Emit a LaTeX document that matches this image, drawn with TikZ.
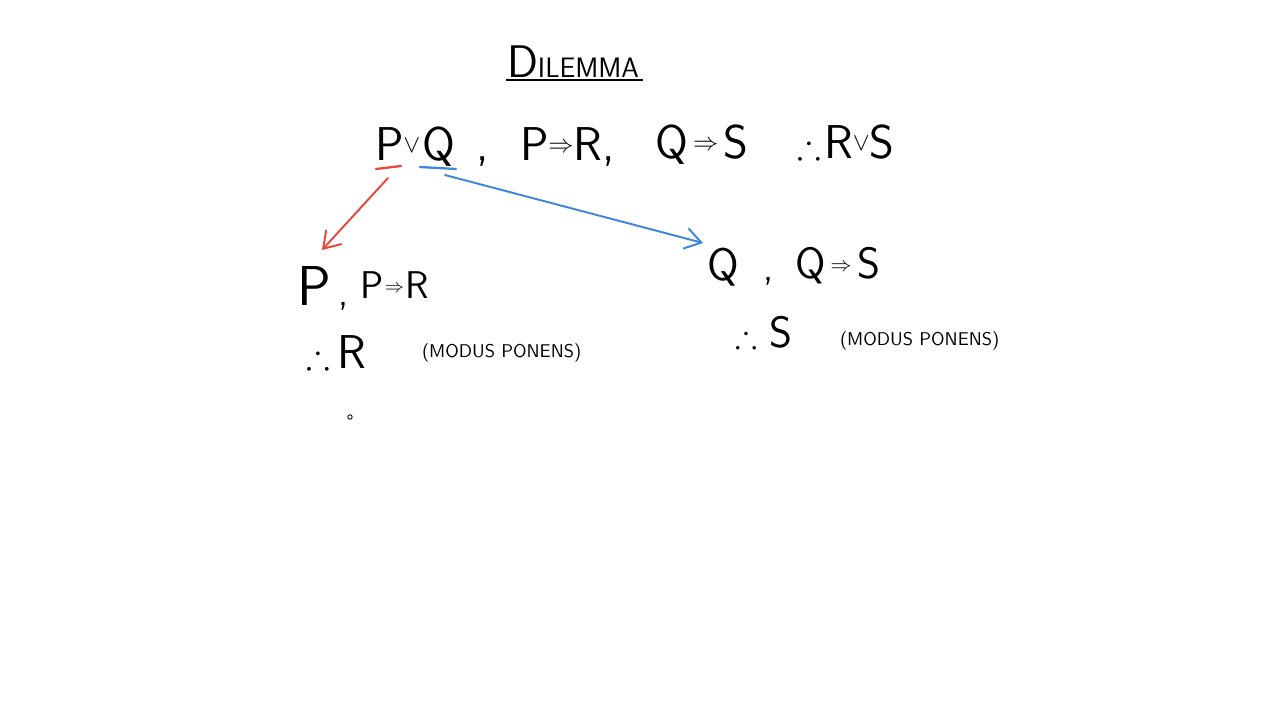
\documentclass[tikz,border=0pt]{standalone}
\usepackage{amssymb}
\usetikzlibrary{arrows.meta}
\renewcommand{\familydefault}{\sfdefault}
\definecolor{penred}{HTML}{E8473B}
\definecolor{penblue}{HTML}{3C86DE}
\newcommand{\smsym}[1]{{\fontsize{0.5em}{1em}\selectfont\raisebox{0.3em}{$#1$}}}
\newcommand{\thr}{{\fontsize{0.75em}{1em}\selectfont$\therefore$}}
\tikzset{
  txt/.style={inner sep=0pt, outer sep=0pt, text=black},
  big/.style={txt, font=\sffamily\fontsize{27}{30}\selectfont},
  mid/.style={txt, font=\sffamily\fontsize{22}{26}\selectfont},
  note/.style={txt, font=\sffamily\fontsize{10.5}{13}\selectfont},
  link/.style={line width=1.1pt, -{Straight Barb[length=3.2mm,width=4.2mm]}, line cap=round},
  uline/.style={line width=1.3pt, line cap=round},
}
\begin{document}
\begin{tikzpicture}[x=0.02cm, y=-0.02cm]
\useasboundingbox (0,0) rectangle (1280,720);
% title
\node[txt, font=\sffamily, anchor=base west] (title) at (507,77) {{\fontsize{26}{30}\selectfont D}{\fontsize{16}{20}\selectfont ILEMMA}};
\draw[line width=1pt] (506,80) -- (643,80);
% premises
\node[big, anchor=base west] (pq) at (375,160) {P\smsym{\lor}\kern1pt Q};
\node[big, anchor=base] (c1) at (483,160) {,};
\node[big, anchor=base west] (pr) at (520,160) {P\smsym{\Rightarrow}R,};
\node[big, anchor=base west] (qs) at (655,158) {Q\kern3pt\smsym{\Rightarrow}\kern3pt S};
\node[big, anchor=base west] (con) at (797,158) {\thr\kern2pt R\smsym{\lor}S};
% underlines
\coordinate (ra) at (376,169); \coordinate (rb) at (401,166);
\coordinate (ba) at (420,167); \coordinate (bb) at (456,169);
\draw[uline, penred] (ra) -- (rb);
\draw[uline, penblue] (ba) -- (bb);
% arrows
\coordinate (rs) at (388,178); \coordinate (re) at (322,250);
\coordinate (bs) at (445,175); \coordinate (be) at (703,243);
\draw[link, penred] (rs) -- (re);
\draw[link, penblue] (bs) -- (be);
% left branch
\node[txt, font=\sffamily\fontsize{32}{34}\selectfont, anchor=base west] (lp) at (297,305) {P};
\node[mid, anchor=base] (lc) at (344,305) {,};
\node[mid, anchor=base west] (limp) at (360,298) {P\kern1pt\smsym{\Rightarrow}\kern1pt R};
\node[big, anchor=base west] (lr) at (306,368) {\thr\,R};
\node[note, anchor=base west] (lmp) at (422,357) {(MODUS PONENS)};
% right branch
\node[txt, font=\sffamily\fontsize{26}{28}\selectfont, anchor=base west] (rq) at (707,280) {Q};
\node[mid, anchor=base] (rc) at (769,280) {,};
\node[txt, font=\sffamily\fontsize{25}{28}\selectfont, anchor=base west] (rimp) at (795,278) {Q\kern3pt\smsym{\Rightarrow}\kern3pt S};
\node[txt, font=\sffamily\fontsize{25}{28}\selectfont, anchor=base west] (rs2) at (735,347) {\thr\;S};
\node[note, anchor=base west] (rmp) at (840,345) {(MODUS PONENS)};
% stray dot
\node[draw, circle, inner sep=0pt, minimum size=2.5pt, line width=0.5pt] (dot) at (350,417) {};
\end{tikzpicture}
\end{document}
